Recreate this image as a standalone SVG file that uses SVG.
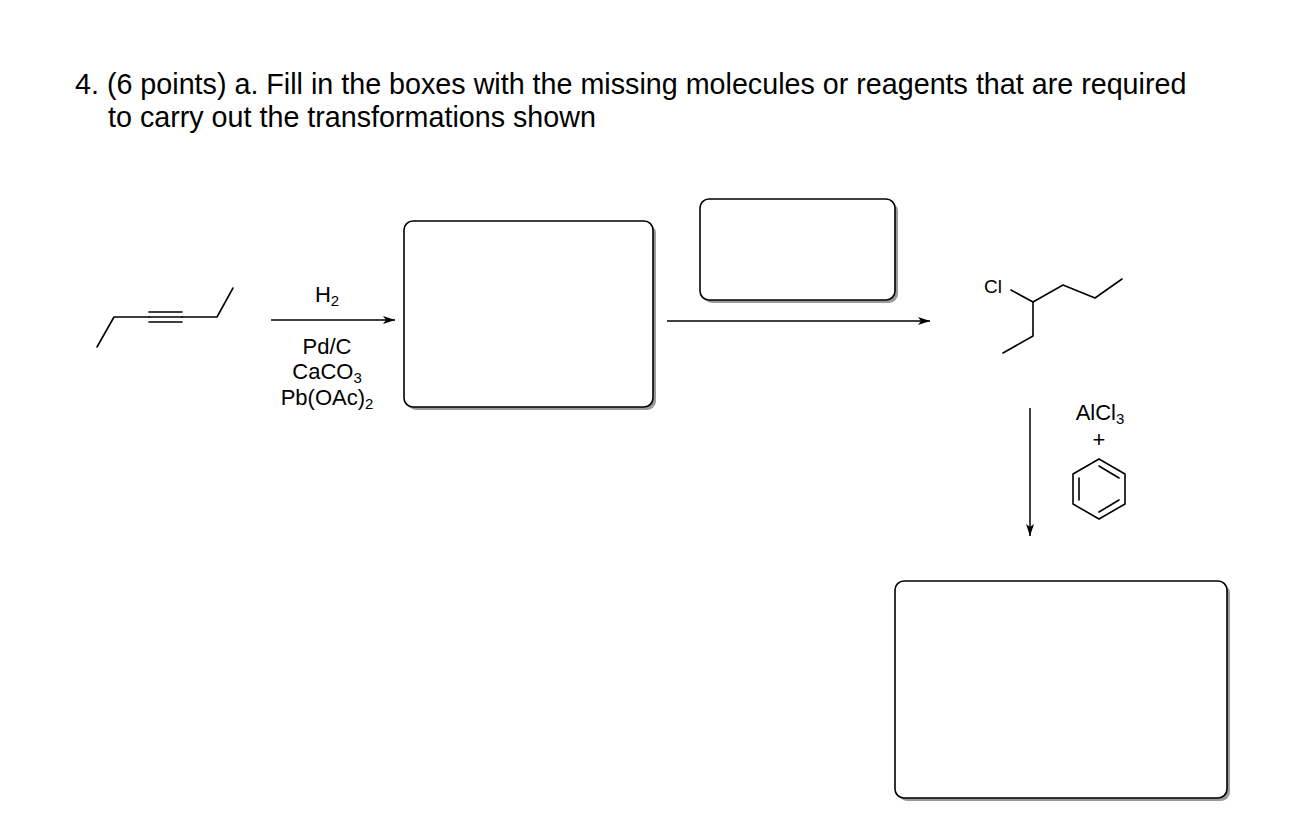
<svg xmlns="http://www.w3.org/2000/svg" width="1310" height="833" viewBox="0 0 1310 833">
<defs>
<style>
text{font-family:"Liberation Sans",Arial,sans-serif;fill:#000}
.t{font-size:28.7px}
.r{font-size:22px;text-anchor:middle}
.b{stroke:#000;stroke-width:1.6;fill:none;stroke-linecap:round;stroke-linejoin:round}
.box{fill:#fff;stroke:#000;stroke-width:1.6}
.sh{fill:#9a9a9a}
.ar{stroke:#000;stroke-width:1.5;fill:none}
</style>
<marker id="ah" viewBox="0 0 12 8" refX="12" refY="4" markerWidth="12" markerHeight="8" markerUnits="userSpaceOnUse" orient="auto"><path d="M0,0L12,4L0,8L3,4Z" fill="#000"/></marker>
</defs>
<rect width="1310" height="833" fill="#fff"/>
<text class="t" x="75" y="94">4. (6 points) a. Fill in the boxes with the missing molecules or reagents that are required</text>
<text class="t" x="108" y="127">to carry out the transformations shown</text>
<g id="alkyne">
<polyline class="b" points="97,347 114,317 149,317"/>
<line class="b" x1="149" y1="312" x2="182" y2="312"/>
<line class="b" x1="149" y1="317" x2="182" y2="317"/>
<line class="b" x1="149" y1="322" x2="182" y2="322"/>
<polyline class="b" points="182,317 217,317 233,288"/>
</g>
<g id="reagents1">
<text class="r" x="327" y="302">H<tspan font-size="15" dy="4">2</tspan></text>
<text class="r" x="327" y="354">Pd/C</text>
<text class="r" x="327" y="379">CaCO<tspan font-size="15" dy="4">3</tspan></text>
<text class="r" x="327" y="405">Pb(OAc)<tspan font-size="15" dy="4">2</tspan></text>
</g>
<g id="box1"><rect class="sh" x="407" y="224" width="249" height="186" rx="9"/><rect class="box" x="404" y="221" width="249" height="186" rx="9"/></g>
<g id="box2"><rect class="sh" x="703" y="202" width="195" height="101" rx="9"/><rect class="box" x="700" y="199" width="195" height="101" rx="9"/></g>
<g id="box3"><rect class="sh" x="898" y="584" width="332" height="217" rx="9"/><rect class="box" x="895" y="581" width="332" height="217" rx="9"/></g>
<g id="chloride">
<text x="984" y="293" style="font-size:19px">Cl</text>
<polyline class="b" points="1011,290 1033,302 1063,285 1095,298 1122,279"/>
<polyline class="b" points="1033,302 1033,336 1003,353"/>
</g>
<g id="reagents2">
<text class="r" x="1100" y="420">AlCl<tspan font-size="15" dy="4">3</tspan></text>
<text class="r" x="1099" y="447">+</text>
<g id="benzene">
<polygon class="b" points="1099,459 1125,474 1125,504 1099,519 1073,504 1073,474"/>
<line class="b" x1="1099" y1="466" x2="1119" y2="478"/>
<line class="b" x1="1119" y1="500" x2="1099" y2="512"/>
<line class="b" x1="1079" y1="478" x2="1079" y2="500"/>
</g>
</g>
<g id="connectors">
<line class="ar" x1="271" y1="320" x2="395" y2="320" marker-end="url(#ah)"/>
<line class="ar" x1="667" y1="321" x2="930" y2="321" marker-end="url(#ah)"/>
<line class="ar" x1="1030" y1="408" x2="1030" y2="536" marker-end="url(#ah)"/>
</g>
</svg>
